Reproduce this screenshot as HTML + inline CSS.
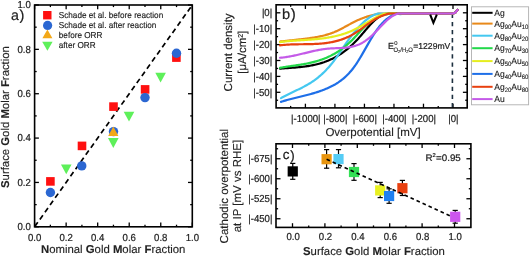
<!DOCTYPE html>
<html><head><meta charset="utf-8"><style>
html,body{margin:0;padding:0;background:#fff;width:531px;height:256px;overflow:hidden}
svg{display:block;will-change:transform;filter:blur(0.3px)}
text{font-family:"Liberation Sans", sans-serif;fill:#222;text-rendering:geometricPrecision}
.tk{stroke:#000;stroke-width:1.3}
.tl{font-size:10.1px;stroke:#222;stroke-width:0.22px}
.lg{font-size:8.6px;stroke:#222;stroke-width:0.15px}
.lb{font-size:9.0px;stroke:#222;stroke-width:0.12px}
.sb{font-size:6.3px}
.ti{font-size:11.35px;stroke:#222;stroke-width:0.12px}
.tr{font-size:11.5px;stroke:#222;stroke-width:0.12px}
.pl{font-size:13.6px}
text.pl,text.pr{stroke:#111;stroke-width:0.2px}
</style></head><body>
<svg width="531" height="256" viewBox="0 0 531 256">
<rect width="531" height="256" fill="#fff"/>
<line x1="34.60" y1="226.80" x2="34.60" y2="222.50" class="tk"/>
<line x1="34.60" y1="5.00" x2="34.60" y2="9.30" class="tk"/>
<line x1="34.60" y1="226.80" x2="38.90" y2="226.80" class="tk"/>
<line x1="192.30" y1="226.80" x2="188.00" y2="226.80" class="tk"/>
<line x1="50.37" y1="226.80" x2="50.37" y2="224.70" class="tk"/>
<line x1="50.37" y1="5.00" x2="50.37" y2="7.10" class="tk"/>
<line x1="34.60" y1="204.62" x2="36.70" y2="204.62" class="tk"/>
<line x1="192.30" y1="204.62" x2="190.20" y2="204.62" class="tk"/>
<line x1="66.14" y1="226.80" x2="66.14" y2="222.50" class="tk"/>
<line x1="66.14" y1="5.00" x2="66.14" y2="9.30" class="tk"/>
<line x1="34.60" y1="182.44" x2="38.90" y2="182.44" class="tk"/>
<line x1="192.30" y1="182.44" x2="188.00" y2="182.44" class="tk"/>
<line x1="81.91" y1="226.80" x2="81.91" y2="224.70" class="tk"/>
<line x1="81.91" y1="5.00" x2="81.91" y2="7.10" class="tk"/>
<line x1="34.60" y1="160.26" x2="36.70" y2="160.26" class="tk"/>
<line x1="192.30" y1="160.26" x2="190.20" y2="160.26" class="tk"/>
<line x1="97.68" y1="226.80" x2="97.68" y2="222.50" class="tk"/>
<line x1="97.68" y1="5.00" x2="97.68" y2="9.30" class="tk"/>
<line x1="34.60" y1="138.08" x2="38.90" y2="138.08" class="tk"/>
<line x1="192.30" y1="138.08" x2="188.00" y2="138.08" class="tk"/>
<line x1="113.45" y1="226.80" x2="113.45" y2="224.70" class="tk"/>
<line x1="113.45" y1="5.00" x2="113.45" y2="7.10" class="tk"/>
<line x1="34.60" y1="115.90" x2="36.70" y2="115.90" class="tk"/>
<line x1="192.30" y1="115.90" x2="190.20" y2="115.90" class="tk"/>
<line x1="129.22" y1="226.80" x2="129.22" y2="222.50" class="tk"/>
<line x1="129.22" y1="5.00" x2="129.22" y2="9.30" class="tk"/>
<line x1="34.60" y1="93.72" x2="38.90" y2="93.72" class="tk"/>
<line x1="192.30" y1="93.72" x2="188.00" y2="93.72" class="tk"/>
<line x1="144.99" y1="226.80" x2="144.99" y2="224.70" class="tk"/>
<line x1="144.99" y1="5.00" x2="144.99" y2="7.10" class="tk"/>
<line x1="34.60" y1="71.54" x2="36.70" y2="71.54" class="tk"/>
<line x1="192.30" y1="71.54" x2="190.20" y2="71.54" class="tk"/>
<line x1="160.76" y1="226.80" x2="160.76" y2="222.50" class="tk"/>
<line x1="160.76" y1="5.00" x2="160.76" y2="9.30" class="tk"/>
<line x1="34.60" y1="49.36" x2="38.90" y2="49.36" class="tk"/>
<line x1="192.30" y1="49.36" x2="188.00" y2="49.36" class="tk"/>
<line x1="176.53" y1="226.80" x2="176.53" y2="224.70" class="tk"/>
<line x1="176.53" y1="5.00" x2="176.53" y2="7.10" class="tk"/>
<line x1="34.60" y1="27.18" x2="36.70" y2="27.18" class="tk"/>
<line x1="192.30" y1="27.18" x2="190.20" y2="27.18" class="tk"/>
<line x1="192.30" y1="226.80" x2="192.30" y2="222.50" class="tk"/>
<line x1="192.30" y1="5.00" x2="192.30" y2="9.30" class="tk"/>
<line x1="34.60" y1="5.00" x2="38.90" y2="5.00" class="tk"/>
<line x1="192.30" y1="5.00" x2="188.00" y2="5.00" class="tk"/>
<line x1="34.60" y1="226.80" x2="190.72" y2="7.22" stroke="#000" stroke-width="1.7" stroke-dasharray="5.2 3.6" stroke-dashoffset="-0.3"/>
<rect x="34.60" y="5.00" width="157.70" height="221.80" fill="none" stroke="#000" stroke-width="1.6"/>
<text transform="translate(30.80,230.20) scale(0.950,1)" class="tl" text-anchor="end">0.0</text>
<text transform="translate(34.60,240.60) scale(0.950,1)" class="tl" text-anchor="middle">0.0</text>
<text transform="translate(30.80,185.84) scale(0.950,1)" class="tl" text-anchor="end">0.2</text>
<text transform="translate(66.14,240.60) scale(0.950,1)" class="tl" text-anchor="middle">0.2</text>
<text transform="translate(30.80,141.48) scale(0.950,1)" class="tl" text-anchor="end">0.4</text>
<text transform="translate(97.68,240.60) scale(0.950,1)" class="tl" text-anchor="middle">0.4</text>
<text transform="translate(30.80,97.12) scale(0.950,1)" class="tl" text-anchor="end">0.6</text>
<text transform="translate(129.22,240.60) scale(0.950,1)" class="tl" text-anchor="middle">0.6</text>
<text transform="translate(30.80,52.76) scale(0.950,1)" class="tl" text-anchor="end">0.8</text>
<text transform="translate(160.76,240.60) scale(0.950,1)" class="tl" text-anchor="middle">0.8</text>
<text transform="translate(30.80,8.40) scale(0.950,1)" class="tl" text-anchor="end">1.0</text>
<text transform="translate(192.30,240.60) scale(0.950,1)" class="tl" text-anchor="middle">1.0</text>
<text x="11.0" y="20.2" class="pl" style="font-size:14.2px">a</text><text x="19.5" y="20.2" class="pr" style="font-size:14.6px">)</text>
<rect x="46.10" y="177.10" width="8.60" height="8.60" fill="#ff1010"/>
<rect x="77.70" y="141.60" width="8.60" height="8.60" fill="#ff1010"/>
<rect x="109.20" y="102.30" width="8.60" height="8.60" fill="#ff1010"/>
<rect x="140.80" y="85.10" width="8.60" height="8.60" fill="#ff1010"/>
<rect x="172.10" y="53.30" width="8.60" height="8.60" fill="#ff1010"/>
<circle cx="50.40" cy="192.50" r="4.70" fill="#2b67d2"/>
<circle cx="81.75" cy="165.90" r="4.70" fill="#2b67d2"/>
<circle cx="113.50" cy="131.60" r="4.70" fill="#2b67d2"/>
<circle cx="145.00" cy="97.60" r="4.70" fill="#2b67d2"/>
<circle cx="176.50" cy="53.30" r="4.70" fill="#2b67d2"/>
<polygon points="108.20,136.00 118.40,136.00 113.30,126.40" fill="#f3a818"/>
<polygon points="60.95,164.40 71.55,164.40 66.25,174.20" fill="#5ef05a"/>
<polygon points="108.00,138.10 118.60,138.10 113.30,147.90" fill="#5ef05a"/>
<polygon points="123.70,111.70 134.30,111.70 129.00,121.50" fill="#5ef05a"/>
<polygon points="155.30,72.70 165.90,72.70 160.60,82.50" fill="#5ef05a"/>
<rect x="43.10" y="11.00" width="8.40" height="8.40" fill="#ff1010"/>
<circle cx="47.60" cy="25.40" r="4.60" fill="#2b67d2"/>
<polygon points="42.40,38.20 52.40,38.20 47.40,29.40" fill="#f3a818"/>
<polygon points="42.20,41.85 52.60,41.85 47.40,50.75" fill="#5ef05a"/>
<text transform="translate(58.8,17.90) scale(0.95,1)" class="lg">Schade et al. before reaction</text>
<text transform="translate(58.8,27.70) scale(0.95,1)" class="lg">Schade et al. after reaction</text>
<text transform="translate(58.8,37.60) scale(0.95,1)" class="lg">before ORR</text>
<text transform="translate(58.8,47.50) scale(0.95,1)" class="lg">after ORR</text>
<text x="41.0" y="253.1" class="ti"><tspan font-weight="bold">N</tspan>ominal <tspan font-weight="bold">G</tspan>old <tspan font-weight="bold">M</tspan>olar <tspan font-weight="bold">F</tspan>raction</text>
<text transform="translate(9.2,188.0) rotate(-90)" class="ti"><tspan font-weight="bold">S</tspan>urface <tspan font-weight="bold">G</tspan>old <tspan font-weight="bold">M</tspan>olar <tspan font-weight="bold">F</tspan>raction</text>
<line x1="290.64" y1="107.90" x2="290.64" y2="105.90" class="tk"/>
<line x1="290.64" y1="4.80" x2="290.64" y2="6.80" class="tk"/>
<line x1="305.40" y1="107.90" x2="305.40" y2="103.70" class="tk"/>
<line x1="305.40" y1="4.80" x2="305.40" y2="9.00" class="tk"/>
<line x1="320.16" y1="107.90" x2="320.16" y2="105.90" class="tk"/>
<line x1="320.16" y1="4.80" x2="320.16" y2="6.80" class="tk"/>
<line x1="334.92" y1="107.90" x2="334.92" y2="103.70" class="tk"/>
<line x1="334.92" y1="4.80" x2="334.92" y2="9.00" class="tk"/>
<line x1="349.68" y1="107.90" x2="349.68" y2="105.90" class="tk"/>
<line x1="349.68" y1="4.80" x2="349.68" y2="6.80" class="tk"/>
<line x1="364.44" y1="107.90" x2="364.44" y2="103.70" class="tk"/>
<line x1="364.44" y1="4.80" x2="364.44" y2="9.00" class="tk"/>
<line x1="379.20" y1="107.90" x2="379.20" y2="105.90" class="tk"/>
<line x1="379.20" y1="4.80" x2="379.20" y2="6.80" class="tk"/>
<line x1="393.96" y1="107.90" x2="393.96" y2="103.70" class="tk"/>
<line x1="393.96" y1="4.80" x2="393.96" y2="9.00" class="tk"/>
<line x1="408.72" y1="107.90" x2="408.72" y2="105.90" class="tk"/>
<line x1="408.72" y1="4.80" x2="408.72" y2="6.80" class="tk"/>
<line x1="423.48" y1="107.90" x2="423.48" y2="103.70" class="tk"/>
<line x1="423.48" y1="4.80" x2="423.48" y2="9.00" class="tk"/>
<line x1="438.24" y1="107.90" x2="438.24" y2="105.90" class="tk"/>
<line x1="438.24" y1="4.80" x2="438.24" y2="6.80" class="tk"/>
<line x1="453.00" y1="107.90" x2="453.00" y2="103.70" class="tk"/>
<line x1="453.00" y1="4.80" x2="453.00" y2="9.00" class="tk"/>
<line x1="276.10" y1="12.80" x2="280.40" y2="12.80" class="tk"/>
<line x1="467.20" y1="12.80" x2="462.90" y2="12.80" class="tk"/>
<line x1="276.10" y1="20.75" x2="278.10" y2="20.75" class="tk"/>
<line x1="467.20" y1="20.75" x2="465.20" y2="20.75" class="tk"/>
<line x1="276.10" y1="28.70" x2="280.40" y2="28.70" class="tk"/>
<line x1="467.20" y1="28.70" x2="462.90" y2="28.70" class="tk"/>
<line x1="276.10" y1="36.65" x2="278.10" y2="36.65" class="tk"/>
<line x1="467.20" y1="36.65" x2="465.20" y2="36.65" class="tk"/>
<line x1="276.10" y1="44.60" x2="280.40" y2="44.60" class="tk"/>
<line x1="467.20" y1="44.60" x2="462.90" y2="44.60" class="tk"/>
<line x1="276.10" y1="52.55" x2="278.10" y2="52.55" class="tk"/>
<line x1="467.20" y1="52.55" x2="465.20" y2="52.55" class="tk"/>
<line x1="276.10" y1="60.50" x2="280.40" y2="60.50" class="tk"/>
<line x1="467.20" y1="60.50" x2="462.90" y2="60.50" class="tk"/>
<line x1="276.10" y1="68.45" x2="278.10" y2="68.45" class="tk"/>
<line x1="467.20" y1="68.45" x2="465.20" y2="68.45" class="tk"/>
<line x1="276.10" y1="76.40" x2="280.40" y2="76.40" class="tk"/>
<line x1="467.20" y1="76.40" x2="462.90" y2="76.40" class="tk"/>
<line x1="276.10" y1="84.35" x2="278.10" y2="84.35" class="tk"/>
<line x1="467.20" y1="84.35" x2="465.20" y2="84.35" class="tk"/>
<line x1="276.10" y1="92.30" x2="280.40" y2="92.30" class="tk"/>
<line x1="467.20" y1="92.30" x2="462.90" y2="92.30" class="tk"/>
<line x1="276.10" y1="100.25" x2="278.10" y2="100.25" class="tk"/>
<line x1="467.20" y1="100.25" x2="465.20" y2="100.25" class="tk"/>
<text transform="translate(272.20,16.20) scale(0.950,1)" class="tl" text-anchor="end">|0|</text>
<text transform="translate(272.20,32.10) scale(0.950,1)" class="tl" text-anchor="end">|-10|</text>
<text transform="translate(272.20,48.00) scale(0.950,1)" class="tl" text-anchor="end">|-20|</text>
<text transform="translate(272.20,63.90) scale(0.950,1)" class="tl" text-anchor="end">|-30|</text>
<text transform="translate(272.20,79.80) scale(0.950,1)" class="tl" text-anchor="end">|-40|</text>
<text transform="translate(272.20,95.70) scale(0.950,1)" class="tl" text-anchor="end">|-50|</text>
<text transform="translate(305.80,121.50) scale(0.950,1)" class="tl" text-anchor="middle">|-1000|</text>
<text transform="translate(335.32,121.50) scale(0.950,1)" class="tl" text-anchor="middle">|-800|</text>
<text transform="translate(364.84,121.50) scale(0.950,1)" class="tl" text-anchor="middle">|-600|</text>
<text transform="translate(394.36,121.50) scale(0.950,1)" class="tl" text-anchor="middle">|-400|</text>
<text transform="translate(423.88,121.50) scale(0.950,1)" class="tl" text-anchor="middle">|-200|</text>
<text transform="translate(453.40,121.50) scale(0.950,1)" class="tl" text-anchor="middle">|0|</text>
<text x="281.9" y="19.3" class="pl" style="font-size:14.6px">b</text><text x="290.8" y="19.1" class="pr" style="font-size:15px">)</text>
<line x1="452.4" y1="13.8" x2="452.4" y2="107" stroke="#1d2f3f" stroke-width="1.6" stroke-dasharray="4.3 3.8"/>
<path d="M280.00,68.66 L281.00,68.58 L282.00,68.50 L283.00,68.42 L284.00,68.34 L285.00,68.27 L286.00,68.20 L287.00,68.12 L288.00,68.05 L289.00,67.98 L290.00,67.91 L291.00,67.83 L292.00,67.76 L293.00,67.68 L294.00,67.61 L295.00,67.53 L296.00,67.44 L297.00,67.35 L298.00,67.26 L299.00,67.17 L300.00,67.07 L301.00,66.96 L302.00,66.85 L303.00,66.74 L304.00,66.61 L305.00,66.48 L306.00,66.35 L307.00,66.20 L308.00,66.05 L309.00,65.89 L310.00,65.72 L311.00,65.54 L312.00,65.35 L313.00,65.15 L314.00,64.94 L315.00,64.72 L316.00,64.49 L317.00,64.25 L318.00,63.99 L319.00,63.72 L320.00,63.44 L321.00,63.15 L322.00,62.84 L323.00,62.51 L324.00,62.18 L325.00,61.82 L326.00,61.45 L327.00,61.07 L328.00,60.67 L329.00,60.25 L330.00,59.81 L331.00,59.36 L332.00,58.89 L333.00,58.40 L334.00,57.89 L335.00,57.36 L336.00,56.81 L337.00,56.24 L338.00,55.65 L339.00,55.04 L340.00,54.41 L341.00,53.76 L342.00,53.08 L343.00,52.38 L344.00,51.66 L345.00,50.92 L346.00,50.15 L347.00,49.35 L348.00,48.54 L349.00,47.69 L350.00,46.82 L351.00,45.93 L352.00,45.00 L353.00,44.05 L354.00,43.08 L355.00,42.07 L356.00,41.04 L357.00,39.98 L358.00,38.89 L359.00,37.77 L360.00,36.64 L361.00,35.49 L362.00,34.32 L363.00,33.15 L364.00,31.98 L365.00,30.81 L366.00,29.64 L367.00,28.48 L368.00,27.33 L369.00,26.21 L370.00,25.10 L371.00,24.02 L372.00,22.98 L373.00,21.96 L374.00,20.99 L375.00,20.06 L376.00,19.18 L377.00,18.35 L378.00,17.58 L379.00,16.87 L380.00,16.22 L381.00,15.65 L382.00,15.13 L383.00,14.68 L384.00,14.29 L385.00,13.95 L386.00,13.67 L387.00,13.50 L388.00,13.50 L389.00,13.50 L390.00,13.50 L391.00,13.50 L392.00,13.50 L393.00,13.50 L394.00,13.50 L395.00,13.50 L396.00,13.50 L397.00,13.50 L398.00,13.50 L399.00,13.50 L400.00,13.50 L401.00,13.50 L402.00,13.50 L403.00,13.50 L404.00,13.50 L405.00,13.50 L406.00,13.50 L407.00,13.50 L408.00,13.50 L409.00,13.50 L410.00,13.50 L411.00,13.50 L412.00,13.50 L413.00,13.50 L414.00,13.50 L415.00,13.50 L416.00,13.50 L417.00,13.50 L418.00,13.50 L419.00,13.50 L420.00,13.50 L421.00,13.50 L422.00,13.50 L423.00,13.50 L424.00,13.50 L425.00,13.50 L426.00,13.50 L427.00,13.50 L428.00,13.50 L429.00,13.50 L430.00,13.50 L431.00,13.50 L432.00,13.50 L433.00,13.50 L434.00,13.50 L435.00,13.50 L436.00,13.50 L437.00,13.50 L438.00,13.50 L439.00,13.50 L440.00,13.50 L441.00,13.50 L442.00,13.50 L443.00,13.50 L444.00,13.50 L445.00,13.50 L446.00,13.50 L447.00,13.50 L448.00,13.50 L449.00,13.50 L450.00,13.50 L453.00,13.50 L455.50,12.40 L457.60,9.80" fill="none" stroke="#000000" stroke-width="2.2" stroke-linecap="round" stroke-linejoin="round"/>
<path d="M280.00,41.59 L281.00,41.46 L282.00,41.34 L283.00,41.22 L284.00,41.10 L285.00,40.99 L286.00,40.87 L287.00,40.76 L288.00,40.65 L289.00,40.54 L290.00,40.43 L291.00,40.32 L292.00,40.22 L293.00,40.11 L294.00,40.00 L295.00,39.89 L296.00,39.79 L297.00,39.68 L298.00,39.57 L299.00,39.46 L300.00,39.34 L301.00,39.23 L302.00,39.12 L303.00,39.00 L304.00,38.88 L305.00,38.75 L306.00,38.63 L307.00,38.50 L308.00,38.37 L309.00,38.23 L310.00,38.09 L311.00,37.95 L312.00,37.80 L313.00,37.65 L314.00,37.49 L315.00,37.33 L316.00,37.16 L317.00,36.98 L318.00,36.79 L319.00,36.59 L320.00,36.39 L321.00,36.17 L322.00,35.95 L323.00,35.71 L324.00,35.46 L325.00,35.20 L326.00,34.93 L327.00,34.64 L328.00,34.34 L329.00,34.03 L330.00,33.70 L331.00,33.35 L332.00,32.99 L333.00,32.61 L334.00,32.22 L335.00,31.80 L336.00,31.37 L337.00,30.92 L338.00,30.45 L339.00,29.97 L340.00,29.47 L341.00,28.96 L342.00,28.44 L343.00,27.91 L344.00,27.37 L345.00,26.83 L346.00,26.28 L347.00,25.74 L348.00,25.19 L349.00,24.64 L350.00,24.10 L351.00,23.56 L352.00,23.04 L353.00,22.51 L354.00,22.00 L355.00,21.50 L356.00,21.02 L357.00,20.55 L358.00,20.10 L359.00,19.66 L360.00,19.23 L361.00,18.82 L362.00,18.43 L363.00,18.05 L364.00,17.68 L365.00,17.33 L366.00,16.99 L367.00,16.66 L368.00,16.35 L369.00,16.05 L370.00,15.76 L371.00,15.49 L372.00,15.23 L373.00,14.97 L374.00,14.73 L375.00,14.51 L376.00,14.29 L377.00,14.08 L378.00,13.89 L379.00,13.70 L380.00,13.53 L381.00,13.50 L382.00,13.50 L383.00,13.50 L384.00,13.50 L385.00,13.50 L386.00,13.50 L387.00,13.50 L388.00,13.50 L389.00,13.50 L390.00,13.50 L391.00,13.50 L392.00,13.50 L393.00,13.50 L394.00,13.50 L395.00,13.50 L396.00,13.50 L397.00,13.50 L398.00,13.50 L399.00,13.50 L400.00,13.50 L401.00,13.50 L402.00,13.50 L403.00,13.50 L404.00,13.50 L405.00,13.50 L406.00,13.50 L407.00,13.50 L408.00,13.50 L409.00,13.50 L410.00,13.50 L411.00,13.50 L412.00,13.50 L413.00,13.50 L414.00,13.50 L415.00,13.50 L416.00,13.50 L417.00,13.50 L418.00,13.50 L419.00,13.50 L420.00,13.50 L421.00,13.50 L422.00,13.50 L423.00,13.50 L424.00,13.50 L425.00,13.50 L426.00,13.50 L427.00,13.50 L428.00,13.50 L429.00,13.50 L430.00,13.50 L431.00,13.50 L432.00,13.50 L433.00,13.50 L434.00,13.50 L435.00,13.50 L436.00,13.50 L437.00,13.50 L438.00,13.50 L439.00,13.50 L440.00,13.50 L441.00,13.50 L442.00,13.50 L443.00,13.50 L444.00,13.50 L445.00,13.50 L446.00,13.50 L447.00,13.50 L448.00,13.50 L449.00,13.50 L450.00,13.50 L453.00,13.50 L455.50,12.40 L457.60,9.80" fill="none" stroke="#e8891a" stroke-width="2.2" stroke-linecap="round" stroke-linejoin="round"/>
<path d="M281.00,98.14 L282.00,97.57 L283.00,97.01 L284.00,96.47 L285.00,95.94 L286.00,95.42 L287.00,94.91 L288.00,94.41 L289.00,93.92 L290.00,93.43 L291.00,92.95 L292.00,92.47 L293.00,92.00 L294.00,91.52 L295.00,91.05 L296.00,90.58 L297.00,90.10 L298.00,89.62 L299.00,89.14 L300.00,88.65 L301.00,88.16 L302.00,87.65 L303.00,87.14 L304.00,86.62 L305.00,86.08 L306.00,85.53 L307.00,84.97 L308.00,84.39 L309.00,83.80 L310.00,83.19 L311.00,82.56 L312.00,81.91 L313.00,81.23 L314.00,80.54 L315.00,79.82 L316.00,79.08 L317.00,78.31 L318.00,77.52 L319.00,76.70 L320.00,75.85 L321.00,74.97 L322.00,74.07 L323.00,73.14 L324.00,72.18 L325.00,71.18 L326.00,70.16 L327.00,69.11 L328.00,68.02 L329.00,66.90 L330.00,65.75 L331.00,64.56 L332.00,63.34 L333.00,62.08 L334.00,60.79 L335.00,59.46 L336.00,58.09 L337.00,56.69 L338.00,55.25 L339.00,53.79 L340.00,52.31 L341.00,50.82 L342.00,49.33 L343.00,47.83 L344.00,46.34 L345.00,44.87 L346.00,43.42 L347.00,41.99 L348.00,40.57 L349.00,39.19 L350.00,37.82 L351.00,36.48 L352.00,35.16 L353.00,33.88 L354.00,32.62 L355.00,31.39 L356.00,30.19 L357.00,29.02 L358.00,27.88 L359.00,26.78 L360.00,25.71 L361.00,24.68 L362.00,23.68 L363.00,22.72 L364.00,21.80 L365.00,20.92 L366.00,20.09 L367.00,19.29 L368.00,18.54 L369.00,17.83 L370.00,17.17 L371.00,16.56 L372.00,15.99 L373.00,15.47 L374.00,15.00 L375.00,14.59 L376.00,14.22 L377.00,13.91 L378.00,13.64 L379.00,13.50 L380.00,13.50 L381.00,13.50 L382.00,13.50 L383.00,13.50 L384.00,13.50 L385.00,13.50 L386.00,13.50 L387.00,13.50 L388.00,13.50 L389.00,13.50 L390.00,13.50 L391.00,13.50 L392.00,13.50 L393.00,13.50 L394.00,13.50 L395.00,13.61 L396.00,13.72 L397.00,13.83 L398.00,13.93 L399.00,14.02 L400.00,14.10 L401.00,14.16 L402.00,13.50 L403.00,13.50 L404.00,13.50 L405.00,13.50 L406.00,13.50 L407.00,13.50 L408.00,13.50 L409.00,13.50 L410.00,13.50 L411.00,13.50 L412.00,13.50 L413.00,13.50 L414.00,13.50 L415.00,13.50 L416.00,13.50 L417.00,13.50 L418.00,13.50 L419.00,13.50 L420.00,13.50 L421.00,13.50 L422.00,13.50 L423.00,13.50 L424.00,13.50 L425.00,13.50 L426.00,13.50 L427.00,13.50 L428.00,13.50 L429.00,13.50 L430.00,13.50 L431.00,13.50 L432.00,13.50 L433.00,13.50 L434.00,13.50 L435.00,13.50 L436.00,13.50 L437.00,13.50 L438.00,13.50 L439.00,13.50 L440.00,13.50 L441.00,13.50 L442.00,13.50 L443.00,13.50 L444.00,13.50 L445.00,13.50 L446.00,13.50 L447.00,13.50 L448.00,13.50 L449.00,13.50 L450.00,13.50 L453.00,13.50 L455.50,12.40 L457.60,9.80" fill="none" stroke="#44c8f0" stroke-width="2.2" stroke-linecap="round" stroke-linejoin="round"/>
<path d="M280.00,67.81 L281.00,67.64 L282.00,67.47 L283.00,67.30 L284.00,67.14 L285.00,66.98 L286.00,66.83 L287.00,66.67 L288.00,66.52 L289.00,66.38 L290.00,66.23 L291.00,66.09 L292.00,65.94 L293.00,65.80 L294.00,65.65 L295.00,65.51 L296.00,65.36 L297.00,65.21 L298.00,65.06 L299.00,64.91 L300.00,64.75 L301.00,64.59 L302.00,64.42 L303.00,64.25 L304.00,64.08 L305.00,63.90 L306.00,63.71 L307.00,63.51 L308.00,63.31 L309.00,63.10 L310.00,62.89 L311.00,62.66 L312.00,62.43 L313.00,62.18 L314.00,61.93 L315.00,61.66 L316.00,61.39 L317.00,61.10 L318.00,60.80 L319.00,60.49 L320.00,60.17 L321.00,59.83 L322.00,59.48 L323.00,59.11 L324.00,58.73 L325.00,58.34 L326.00,57.93 L327.00,57.50 L328.00,57.06 L329.00,56.60 L330.00,56.12 L331.00,55.62 L332.00,55.10 L333.00,54.57 L334.00,54.02 L335.00,53.44 L336.00,52.85 L337.00,52.23 L338.00,51.60 L339.00,50.94 L340.00,50.25 L341.00,49.55 L342.00,48.82 L343.00,48.07 L344.00,47.30 L345.00,46.50 L346.00,45.67 L347.00,44.82 L348.00,43.94 L349.00,43.04 L350.00,42.11 L351.00,41.15 L352.00,40.16 L353.00,39.14 L354.00,38.11 L355.00,37.05 L356.00,35.98 L357.00,34.89 L358.00,33.81 L359.00,32.72 L360.00,31.64 L361.00,30.57 L362.00,29.51 L363.00,28.47 L364.00,27.46 L365.00,26.47 L366.00,25.52 L367.00,24.61 L368.00,23.74 L369.00,22.91 L370.00,22.14 L371.00,21.40 L372.00,20.71 L373.00,20.06 L374.00,19.44 L375.00,18.87 L376.00,18.32 L377.00,17.81 L378.00,17.33 L379.00,16.88 L380.00,16.45 L381.00,16.05 L382.00,15.67 L383.00,15.31 L384.00,14.98 L385.00,14.67 L386.00,14.38 L387.00,14.11 L388.00,13.86 L389.00,13.63 L390.00,13.50 L391.00,13.50 L392.00,13.50 L393.00,13.50 L394.00,13.50 L395.00,13.50 L396.00,13.50 L397.00,13.50 L398.00,13.50 L399.00,13.50 L400.00,13.50 L401.00,13.50 L402.00,13.50 L403.00,13.50 L404.00,13.50 L405.00,13.50 L406.00,13.50 L407.00,13.50 L408.00,13.50 L409.00,13.50 L410.00,13.50 L411.00,13.50 L412.00,13.50 L413.00,13.50 L414.00,13.50 L415.00,13.50 L416.00,13.50 L417.00,13.50 L418.00,13.50 L419.00,13.50 L420.00,13.50 L421.00,13.50 L422.00,13.50 L423.00,13.50 L424.00,13.50 L425.00,13.50 L426.00,13.50 L427.00,13.50 L428.00,13.50 L429.00,13.50 L430.00,13.50 L431.00,13.50 L432.00,13.50 L433.00,13.50 L434.00,13.50 L435.00,13.50 L436.00,13.50 L437.00,13.50 L438.00,13.50 L439.00,13.50 L440.00,13.50 L441.00,13.50 L442.00,13.50 L443.00,13.50 L444.00,13.50 L445.00,13.50 L446.00,13.50 L447.00,13.50 L448.00,13.50 L449.00,13.50 L450.00,13.50 L453.00,13.50 L455.50,12.40 L457.60,9.80" fill="none" stroke="#22d84a" stroke-width="2.2" stroke-linecap="round" stroke-linejoin="round"/>
<path d="M280.00,42.10 L281.00,41.96 L282.00,41.83 L283.00,41.71 L284.00,41.60 L285.00,41.49 L286.00,41.38 L287.00,41.28 L288.00,41.19 L289.00,41.10 L290.00,41.01 L291.00,40.92 L292.00,40.84 L293.00,40.77 L294.00,40.69 L295.00,40.62 L296.00,40.55 L297.00,40.48 L298.00,40.41 L299.00,40.35 L300.00,40.28 L301.00,40.22 L302.00,40.15 L303.00,40.09 L304.00,40.03 L305.00,39.96 L306.00,39.89 L307.00,39.83 L308.00,39.76 L309.00,39.69 L310.00,39.62 L311.00,39.54 L312.00,39.46 L313.00,39.38 L314.00,39.30 L315.00,39.21 L316.00,39.12 L317.00,39.03 L318.00,38.93 L319.00,38.82 L320.00,38.71 L321.00,38.60 L322.00,38.48 L323.00,38.35 L324.00,38.22 L325.00,38.08 L326.00,37.93 L327.00,37.78 L328.00,37.62 L329.00,37.45 L330.00,37.27 L331.00,37.09 L332.00,36.89 L333.00,36.69 L334.00,36.48 L335.00,36.26 L336.00,36.02 L337.00,35.78 L338.00,35.53 L339.00,35.27 L340.00,34.99 L341.00,34.71 L342.00,34.41 L343.00,34.10 L344.00,33.78 L345.00,33.45 L346.00,33.10 L347.00,32.74 L348.00,32.37 L349.00,31.98 L350.00,31.58 L351.00,31.16 L352.00,30.73 L353.00,30.29 L354.00,29.83 L355.00,29.35 L356.00,28.86 L357.00,28.35 L358.00,27.83 L359.00,27.29 L360.00,26.73 L361.00,26.16 L362.00,25.58 L363.00,25.00 L364.00,24.40 L365.00,23.80 L366.00,23.19 L367.00,22.59 L368.00,21.98 L369.00,21.38 L370.00,20.78 L371.00,20.18 L372.00,19.60 L373.00,19.02 L374.00,18.46 L375.00,17.91 L376.00,17.37 L377.00,16.85 L378.00,16.36 L379.00,15.88 L380.00,15.42 L381.00,14.99 L382.00,14.59 L383.00,14.22 L384.00,13.88 L385.00,13.56 L386.00,13.50 L387.00,13.50 L388.00,13.50 L389.00,13.50 L390.00,13.50 L391.00,13.50 L392.00,13.50 L393.00,13.50 L394.00,13.50 L395.00,13.50 L396.00,13.50 L397.00,13.50 L398.00,13.50 L399.00,13.50 L400.00,13.50 L401.00,13.50 L402.00,13.50 L403.00,13.50 L404.00,13.50 L405.00,13.50 L406.00,13.50 L407.00,13.50 L408.00,13.50 L409.00,13.50 L410.00,13.50 L411.00,13.50 L412.00,13.50 L413.00,13.50 L414.00,13.50 L415.00,13.50 L416.00,13.50 L417.00,13.50 L418.00,13.50 L419.00,13.50 L420.00,13.50 L421.00,13.50 L422.00,13.50 L423.00,13.50 L424.00,13.50 L425.00,13.50 L426.00,13.50 L427.00,13.50 L428.00,13.50 L429.00,13.50 L430.00,13.50 L431.00,13.50 L432.00,13.50 L433.00,13.50 L434.00,13.50 L435.00,13.50 L436.00,13.50 L437.00,13.50 L438.00,13.50 L439.00,13.50 L440.00,13.50 L441.00,13.50 L442.00,13.50 L443.00,13.50 L444.00,13.50 L445.00,13.50 L446.00,13.50 L447.00,13.50 L448.00,13.50 L449.00,13.50 L450.00,13.50 L453.00,13.50 L455.50,12.40 L457.60,9.80" fill="none" stroke="#e6ee1e" stroke-width="2.2" stroke-linecap="round" stroke-linejoin="round"/>
<path d="M281.00,101.86 L282.00,101.54 L283.00,101.22 L284.00,100.92 L285.00,100.62 L286.00,100.33 L287.00,100.05 L288.00,99.77 L289.00,99.50 L290.00,99.23 L291.00,98.97 L292.00,98.71 L293.00,98.46 L294.00,98.20 L295.00,97.96 L296.00,97.71 L297.00,97.46 L298.00,97.22 L299.00,96.98 L300.00,96.74 L301.00,96.49 L302.00,96.25 L303.00,96.00 L304.00,95.76 L305.00,95.51 L306.00,95.26 L307.00,95.00 L308.00,94.74 L309.00,94.48 L310.00,94.21 L311.00,93.94 L312.00,93.66 L313.00,93.37 L314.00,93.08 L315.00,92.78 L316.00,92.47 L317.00,92.15 L318.00,91.83 L319.00,91.49 L320.00,91.15 L321.00,90.79 L322.00,90.43 L323.00,90.05 L324.00,89.66 L325.00,89.26 L326.00,88.85 L327.00,88.42 L328.00,87.98 L329.00,87.53 L330.00,87.06 L331.00,86.57 L332.00,86.07 L333.00,85.55 L334.00,85.00 L335.00,84.44 L336.00,83.85 L337.00,83.24 L338.00,82.60 L339.00,81.92 L340.00,81.22 L341.00,80.49 L342.00,79.72 L343.00,78.91 L344.00,78.06 L345.00,77.18 L346.00,76.25 L347.00,75.28 L348.00,74.27 L349.00,73.21 L350.00,72.09 L351.00,70.93 L352.00,69.72 L353.00,68.45 L354.00,67.13 L355.00,65.75 L356.00,64.30 L357.00,62.80 L358.00,61.25 L359.00,59.65 L360.00,58.00 L361.00,56.32 L362.00,54.61 L363.00,52.88 L364.00,51.14 L365.00,49.39 L366.00,47.63 L367.00,45.88 L368.00,44.14 L369.00,42.41 L370.00,40.71 L371.00,39.03 L372.00,37.39 L373.00,35.78 L374.00,34.20 L375.00,32.67 L376.00,31.19 L377.00,29.75 L378.00,28.37 L379.00,27.05 L380.00,25.80 L381.00,24.61 L382.00,23.49 L383.00,22.43 L384.00,21.43 L385.00,20.50 L386.00,19.63 L387.00,18.81 L388.00,18.05 L389.00,17.35 L390.00,16.69 L391.00,16.09 L392.00,15.54 L393.00,15.04 L394.00,14.59 L395.00,14.18 L396.00,13.81 L397.00,13.50 L398.00,13.50 L399.00,13.50 L400.00,13.50 L401.00,13.50 L402.00,13.50 L403.00,13.50 L404.00,13.50 L405.00,13.50 L406.00,13.50 L407.00,13.50 L408.00,13.50 L409.00,13.50 L410.00,13.50 L411.00,13.50 L412.00,13.50 L413.00,13.50 L414.00,13.50 L415.00,13.50 L416.00,13.50 L417.00,13.50 L418.00,13.50 L419.00,13.50 L420.00,13.50 L421.00,13.50 L422.00,13.50 L423.00,13.50 L424.00,13.50 L425.00,13.50 L426.00,13.50 L427.00,13.50 L428.00,13.50 L429.00,13.50 L430.00,13.50 L431.00,13.50 L432.00,13.50 L433.00,13.50 L434.00,13.50 L435.00,13.50 L436.00,13.50 L437.00,13.50 L438.00,13.50 L439.00,13.50 L440.00,13.50 L441.00,13.50 L442.00,13.50 L443.00,13.50 L444.00,13.50 L445.00,13.50 L446.00,13.50 L447.00,13.50 L448.00,13.50 L449.00,13.50 L450.00,13.50 L453.00,13.50 L455.50,12.40 L457.60,9.80" fill="none" stroke="#1e6fe8" stroke-width="2.2" stroke-linecap="round" stroke-linejoin="round"/>
<path d="M280.00,45.30 L281.00,45.18 L282.00,45.07 L283.00,44.98 L284.00,44.89 L285.00,44.80 L286.00,44.73 L287.00,44.66 L288.00,44.61 L289.00,44.55 L290.00,44.50 L291.00,44.46 L292.00,44.43 L293.00,44.39 L294.00,44.37 L295.00,44.34 L296.00,44.32 L297.00,44.30 L298.00,44.29 L299.00,44.27 L300.00,44.26 L301.00,44.25 L302.00,44.24 L303.00,44.23 L304.00,44.22 L305.00,44.21 L306.00,44.20 L307.00,44.19 L308.00,44.17 L309.00,44.15 L310.00,44.13 L311.00,44.11 L312.00,44.08 L313.00,44.05 L314.00,44.01 L315.00,43.97 L316.00,43.93 L317.00,43.87 L318.00,43.82 L319.00,43.75 L320.00,43.68 L321.00,43.60 L322.00,43.51 L323.00,43.41 L324.00,43.30 L325.00,43.19 L326.00,43.06 L327.00,42.93 L328.00,42.78 L329.00,42.62 L330.00,42.45 L331.00,42.27 L332.00,42.08 L333.00,41.87 L334.00,41.65 L335.00,41.42 L336.00,41.17 L337.00,40.91 L338.00,40.63 L339.00,40.34 L340.00,40.03 L341.00,39.70 L342.00,39.36 L343.00,39.00 L344.00,38.62 L345.00,38.22 L346.00,37.81 L347.00,37.37 L348.00,36.92 L349.00,36.45 L350.00,35.95 L351.00,35.44 L352.00,34.90 L353.00,34.35 L354.00,33.77 L355.00,33.16 L356.00,32.54 L357.00,31.89 L358.00,31.22 L359.00,30.53 L360.00,29.83 L361.00,29.12 L362.00,28.39 L363.00,27.66 L364.00,26.92 L365.00,26.19 L366.00,25.45 L367.00,24.72 L368.00,23.99 L369.00,23.28 L370.00,22.57 L371.00,21.88 L372.00,21.21 L373.00,20.56 L374.00,19.93 L375.00,19.32 L376.00,18.75 L377.00,18.20 L378.00,17.68 L379.00,17.19 L380.00,16.72 L381.00,16.29 L382.00,15.87 L383.00,15.48 L384.00,15.12 L385.00,14.78 L386.00,14.46 L387.00,14.17 L388.00,13.90 L389.00,13.65 L390.00,13.50 L391.00,13.50 L392.00,13.50 L393.00,13.50 L394.00,13.50 L395.00,13.50 L396.00,13.50 L397.00,13.50 L398.00,13.50 L399.00,13.50 L400.00,13.50 L401.00,13.50 L402.00,13.50 L403.00,13.50 L404.00,13.50 L405.00,13.50 L406.00,13.50 L407.00,13.50 L408.00,13.50 L409.00,13.50 L410.00,13.50 L411.00,13.50 L412.00,13.50 L413.00,13.50 L414.00,13.50 L415.00,13.50 L416.00,13.50 L417.00,13.50 L418.00,13.50 L419.00,13.50 L420.00,13.50 L421.00,13.50 L422.00,13.50 L423.00,13.50 L424.00,13.50 L425.00,13.50 L426.00,13.50 L427.00,13.50 L428.00,13.50 L429.00,13.50 L430.00,13.50 L431.00,13.50 L432.00,13.50 L433.00,13.50 L434.00,13.50 L435.00,13.50 L436.00,13.50 L437.00,13.50 L438.00,13.50 L439.00,13.50 L440.00,13.50 L441.00,13.50 L442.00,13.50 L443.00,13.50 L444.00,13.50 L445.00,13.50 L446.00,13.50 L447.00,13.50 L448.00,13.50 L449.00,13.50 L450.00,13.50 L453.00,13.50 L455.50,12.40 L457.60,9.80" fill="none" stroke="#e8400f" stroke-width="2.2" stroke-linecap="round" stroke-linejoin="round"/>
<path d="M280.00,57.75 L281.00,57.67 L282.00,57.58 L283.00,57.47 L284.00,57.36 L285.00,57.23 L286.00,57.09 L287.00,56.94 L288.00,56.77 L289.00,56.60 L290.00,56.43 L291.00,56.24 L292.00,56.04 L293.00,55.84 L294.00,55.63 L295.00,55.42 L296.00,55.20 L297.00,54.97 L298.00,54.74 L299.00,54.51 L300.00,54.27 L301.00,54.03 L302.00,53.79 L303.00,53.55 L304.00,53.31 L305.00,53.06 L306.00,52.82 L307.00,52.57 L308.00,52.33 L309.00,52.09 L310.00,51.86 L311.00,51.62 L312.00,51.39 L313.00,51.16 L314.00,50.94 L315.00,50.73 L316.00,50.51 L317.00,50.31 L318.00,50.11 L319.00,49.92 L320.00,49.74 L321.00,49.57 L322.00,49.40 L323.00,49.25 L324.00,49.11 L325.00,48.97 L326.00,48.85 L327.00,48.74 L328.00,48.65 L329.00,48.56 L330.00,48.49 L331.00,48.43 L332.00,48.37 L333.00,48.33 L334.00,48.29 L335.00,48.25 L336.00,48.21 L337.00,48.18 L338.00,48.14 L339.00,48.10 L340.00,48.06 L341.00,48.01 L342.00,47.96 L343.00,47.89 L344.00,47.82 L345.00,47.73 L346.00,47.63 L347.00,47.52 L348.00,47.39 L349.00,47.24 L350.00,47.07 L351.00,46.88 L352.00,46.66 L353.00,46.42 L354.00,46.16 L355.00,45.87 L356.00,45.55 L357.00,45.19 L358.00,44.81 L359.00,44.39 L360.00,43.94 L361.00,43.45 L362.00,42.92 L363.00,42.35 L364.00,41.74 L365.00,41.09 L366.00,40.39 L367.00,39.66 L368.00,38.89 L369.00,38.08 L370.00,37.23 L371.00,36.36 L372.00,35.45 L373.00,34.51 L374.00,33.55 L375.00,32.56 L376.00,31.55 L377.00,30.51 L378.00,29.46 L379.00,28.40 L380.00,27.33 L381.00,26.27 L382.00,25.21 L383.00,24.17 L384.00,23.15 L385.00,22.15 L386.00,21.19 L387.00,20.26 L388.00,19.38 L389.00,18.55 L390.00,17.77 L391.00,17.06 L392.00,16.40 L393.00,15.81 L394.00,15.26 L395.00,14.77 L396.00,14.33 L397.00,13.93 L398.00,13.58 L399.00,13.50 L400.00,13.50 L401.00,13.50 L402.00,13.50 L403.00,13.50 L404.00,13.50 L405.00,13.50 L406.00,13.50 L407.00,13.50 L408.00,13.50 L409.00,13.50 L410.00,13.50 L411.00,13.50 L412.00,13.50 L413.00,13.50 L414.00,13.50 L415.00,13.50 L416.00,13.50 L417.00,13.50 L418.00,13.50 L419.00,13.50 L420.00,13.50 L421.00,13.50 L422.00,13.50 L423.00,13.50 L424.00,13.50 L425.00,13.50 L426.00,13.50 L427.00,13.50 L428.00,13.50 L429.00,13.50 L430.00,13.50 L431.00,13.50 L432.00,13.50 L433.00,13.50 L434.00,13.50 L435.00,13.50 L436.00,13.50 L437.00,13.50 L438.00,13.50 L439.00,13.50 L440.00,13.50 L441.00,13.50 L442.00,13.50 L443.00,13.50 L444.00,13.50 L445.00,13.50 L446.00,13.50 L447.00,13.50 L448.00,13.50 L449.00,13.50 L450.00,13.50 L453.00,13.50 L455.50,12.40 L457.60,9.80" fill="none" stroke="#c45ae8" stroke-width="2.2" stroke-linecap="round" stroke-linejoin="round"/>
<polyline points="430.2,14.6 433.4,22.8 436.8,14.6" fill="none" stroke="#000" stroke-width="2.1" stroke-linejoin="miter" stroke-miterlimit="10"/>
<rect x="276.10" y="4.80" width="191.10" height="103.10" fill="none" stroke="#000" stroke-width="1.6"/>
<text x="387.9" y="49.0" class="tl" style="font-size:8.8px">E</text>
<text x="394.2" y="45.4" style="font-size:5.8px;stroke:#222;stroke-width:0.12px" fill="#222">0</text>
<text transform="translate(393.5,51.9) scale(0.92,1)" style="font-size:6.4px;stroke:#222;stroke-width:0.12px" fill="#222">O<tspan dy="1" style="font-size:4.2px">2</tspan><tspan dy="-1">/H</tspan><tspan dy="1" style="font-size:4.2px">2</tspan><tspan dy="-1">O</tspan></text>
<text x="413.3" y="49.0" class="tl" style="font-size:8.6px">=1229mV</text>
<rect x="471.5" y="6.8" width="57.1" height="98.0" fill="#fff" stroke="#b0b0b0" stroke-width="0.9"/>
<line x1="472.2" y1="12.80" x2="492.6" y2="12.80" stroke="#000000" stroke-width="2"/>
<text transform="translate(494.2,16.00) scale(0.95,1)" class="lb">Ag</text>
<line x1="472.2" y1="23.60" x2="492.6" y2="23.60" stroke="#e8891a" stroke-width="2"/>
<text transform="translate(494.2,26.80) scale(0.95,1)" class="lb">Ag<tspan class="sb" dy="1.8">90</tspan><tspan dy="-1.8">Au</tspan><tspan class="sb" dy="1.8">10</tspan></text>
<line x1="472.2" y1="35.70" x2="492.6" y2="35.70" stroke="#44c8f0" stroke-width="2"/>
<text transform="translate(494.2,38.90) scale(0.95,1)" class="lb">Ag<tspan class="sb" dy="1.8">80</tspan><tspan dy="-1.8">Au</tspan><tspan class="sb" dy="1.8">20</tspan></text>
<line x1="472.2" y1="48.20" x2="492.6" y2="48.20" stroke="#22d84a" stroke-width="2"/>
<text transform="translate(494.2,51.40) scale(0.95,1)" class="lb">Ag<tspan class="sb" dy="1.8">70</tspan><tspan dy="-1.8">Au</tspan><tspan class="sb" dy="1.8">30</tspan></text>
<line x1="472.2" y1="61.10" x2="492.6" y2="61.10" stroke="#e6ee1e" stroke-width="2"/>
<text transform="translate(494.2,64.30) scale(0.95,1)" class="lb">Ag<tspan class="sb" dy="1.8">50</tspan><tspan dy="-1.8">Au</tspan><tspan class="sb" dy="1.8">50</tspan></text>
<line x1="472.2" y1="73.90" x2="492.6" y2="73.90" stroke="#1e6fe8" stroke-width="2"/>
<text transform="translate(494.2,77.10) scale(0.95,1)" class="lb">Ag<tspan class="sb" dy="1.8">40</tspan><tspan dy="-1.8">Au</tspan><tspan class="sb" dy="1.8">60</tspan></text>
<line x1="472.2" y1="86.80" x2="492.6" y2="86.80" stroke="#e8400f" stroke-width="2"/>
<text transform="translate(494.2,90.00) scale(0.95,1)" class="lb">Ag<tspan class="sb" dy="1.8">20</tspan><tspan dy="-1.8">Au</tspan><tspan class="sb" dy="1.8">80</tspan></text>
<line x1="472.2" y1="99.10" x2="492.6" y2="99.10" stroke="#c45ae8" stroke-width="2"/>
<text transform="translate(494.2,102.30) scale(0.95,1)" class="lb">Au</text>
<text x="325.4" y="135.8" class="tr">Overpotential [mV]</text>
<text transform="translate(231.9,91.4) rotate(-90)" class="tr">Current density</text>
<text transform="translate(246.2,73.8) rotate(-90)" class="tr">[μA/cm²]</text>
<line x1="292.50" y1="227.40" x2="292.50" y2="223.20" class="tk"/>
<line x1="292.50" y1="143.80" x2="292.50" y2="148.00" class="tk"/>
<line x1="308.70" y1="227.40" x2="308.70" y2="225.40" class="tk"/>
<line x1="308.70" y1="143.80" x2="308.70" y2="145.80" class="tk"/>
<line x1="324.90" y1="227.40" x2="324.90" y2="223.20" class="tk"/>
<line x1="324.90" y1="143.80" x2="324.90" y2="148.00" class="tk"/>
<line x1="341.10" y1="227.40" x2="341.10" y2="225.40" class="tk"/>
<line x1="341.10" y1="143.80" x2="341.10" y2="145.80" class="tk"/>
<line x1="357.30" y1="227.40" x2="357.30" y2="223.20" class="tk"/>
<line x1="357.30" y1="143.80" x2="357.30" y2="148.00" class="tk"/>
<line x1="373.50" y1="227.40" x2="373.50" y2="225.40" class="tk"/>
<line x1="373.50" y1="143.80" x2="373.50" y2="145.80" class="tk"/>
<line x1="389.70" y1="227.40" x2="389.70" y2="223.20" class="tk"/>
<line x1="389.70" y1="143.80" x2="389.70" y2="148.00" class="tk"/>
<line x1="405.90" y1="227.40" x2="405.90" y2="225.40" class="tk"/>
<line x1="405.90" y1="143.80" x2="405.90" y2="145.80" class="tk"/>
<line x1="422.10" y1="227.40" x2="422.10" y2="223.20" class="tk"/>
<line x1="422.10" y1="143.80" x2="422.10" y2="148.00" class="tk"/>
<line x1="438.30" y1="227.40" x2="438.30" y2="225.40" class="tk"/>
<line x1="438.30" y1="143.80" x2="438.30" y2="145.80" class="tk"/>
<line x1="454.50" y1="227.40" x2="454.50" y2="223.20" class="tk"/>
<line x1="454.50" y1="143.80" x2="454.50" y2="148.00" class="tk"/>
<line x1="276.00" y1="148.75" x2="278.10" y2="148.75" class="tk"/>
<line x1="470.90" y1="148.75" x2="468.80" y2="148.75" class="tk"/>
<line x1="276.00" y1="158.75" x2="280.50" y2="158.75" class="tk"/>
<line x1="470.90" y1="158.75" x2="466.40" y2="158.75" class="tk"/>
<line x1="276.00" y1="168.75" x2="278.10" y2="168.75" class="tk"/>
<line x1="470.90" y1="168.75" x2="468.80" y2="168.75" class="tk"/>
<line x1="276.00" y1="178.75" x2="280.50" y2="178.75" class="tk"/>
<line x1="470.90" y1="178.75" x2="466.40" y2="178.75" class="tk"/>
<line x1="276.00" y1="188.75" x2="278.10" y2="188.75" class="tk"/>
<line x1="470.90" y1="188.75" x2="468.80" y2="188.75" class="tk"/>
<line x1="276.00" y1="198.75" x2="280.50" y2="198.75" class="tk"/>
<line x1="470.90" y1="198.75" x2="466.40" y2="198.75" class="tk"/>
<line x1="276.00" y1="208.75" x2="278.10" y2="208.75" class="tk"/>
<line x1="470.90" y1="208.75" x2="468.80" y2="208.75" class="tk"/>
<line x1="276.00" y1="218.75" x2="280.50" y2="218.75" class="tk"/>
<line x1="470.90" y1="218.75" x2="466.40" y2="218.75" class="tk"/>
<text transform="translate(272.40,162.15) scale(0.950,1)" class="tl" text-anchor="end">|-675|</text>
<text transform="translate(272.40,182.15) scale(0.950,1)" class="tl" text-anchor="end">|-600|</text>
<text transform="translate(272.40,202.15) scale(0.950,1)" class="tl" text-anchor="end">|-525|</text>
<text transform="translate(272.40,222.15) scale(0.950,1)" class="tl" text-anchor="end">|-450|</text>
<text transform="translate(293.10,240.30) scale(0.950,1)" class="tl" text-anchor="middle">0.0</text>
<text transform="translate(325.50,240.30) scale(0.950,1)" class="tl" text-anchor="middle">0.2</text>
<text transform="translate(357.90,240.30) scale(0.950,1)" class="tl" text-anchor="middle">0.4</text>
<text transform="translate(390.30,240.30) scale(0.950,1)" class="tl" text-anchor="middle">0.6</text>
<text transform="translate(422.70,240.30) scale(0.950,1)" class="tl" text-anchor="middle">0.8</text>
<text transform="translate(455.10,240.30) scale(0.950,1)" class="tl" text-anchor="middle">1.0</text>
<text x="282.7" y="159.2" class="pl" style="font-size:13.4px">c</text><text x="290.3" y="159.9" class="pr" style="font-size:13.3px">)</text>
<text transform="translate(425.4,160.7) scale(1.03,1)" class="tl" style="font-size:9.5px">R<tspan dy="-3.6" style="font-size:5.6px">2</tspan><tspan dy="3.6" dx="0.3">=0.95</tspan></text>
<line x1="292.75" y1="163.40" x2="292.75" y2="179.30" stroke="#000" stroke-width="1.2"/>
<line x1="290.15" y1="163.40" x2="295.35" y2="163.40" stroke="#000" stroke-width="1.2"/>
<line x1="290.15" y1="179.30" x2="295.35" y2="179.30" stroke="#000" stroke-width="1.2"/>
<rect x="287.65" y="166.30" width="10.20" height="10.20" fill="#000000"/>
<line x1="326.60" y1="149.60" x2="326.60" y2="168.20" stroke="#000" stroke-width="1.2"/>
<line x1="324.00" y1="149.60" x2="329.20" y2="149.60" stroke="#000" stroke-width="1.2"/>
<line x1="324.00" y1="168.20" x2="329.20" y2="168.20" stroke="#000" stroke-width="1.2"/>
<rect x="321.50" y="154.10" width="10.20" height="10.20" fill="#e8950f"/>
<line x1="338.50" y1="149.60" x2="338.50" y2="167.80" stroke="#000" stroke-width="1.2"/>
<line x1="335.90" y1="149.60" x2="341.10" y2="149.60" stroke="#000" stroke-width="1.2"/>
<line x1="335.90" y1="167.80" x2="341.10" y2="167.80" stroke="#000" stroke-width="1.2"/>
<rect x="333.40" y="154.00" width="10.20" height="10.20" fill="#55ccf5"/>
<line x1="354.00" y1="163.60" x2="354.00" y2="180.30" stroke="#000" stroke-width="1.2"/>
<line x1="351.40" y1="163.60" x2="356.60" y2="163.60" stroke="#000" stroke-width="1.2"/>
<line x1="351.40" y1="180.30" x2="356.60" y2="180.30" stroke="#000" stroke-width="1.2"/>
<rect x="348.90" y="166.90" width="10.20" height="10.20" fill="#33e055"/>
<line x1="380.20" y1="182.40" x2="380.20" y2="197.60" stroke="#000" stroke-width="1.2"/>
<line x1="377.60" y1="182.40" x2="382.80" y2="182.40" stroke="#000" stroke-width="1.2"/>
<line x1="377.60" y1="197.60" x2="382.80" y2="197.60" stroke="#000" stroke-width="1.2"/>
<rect x="375.10" y="185.30" width="10.20" height="10.20" fill="#e8f020"/>
<line x1="389.10" y1="188.80" x2="389.10" y2="203.30" stroke="#000" stroke-width="1.2"/>
<line x1="386.50" y1="188.80" x2="391.70" y2="188.80" stroke="#000" stroke-width="1.2"/>
<line x1="386.50" y1="203.30" x2="391.70" y2="203.30" stroke="#000" stroke-width="1.2"/>
<rect x="384.00" y="190.90" width="10.20" height="10.20" fill="#2080f0"/>
<line x1="402.40" y1="180.40" x2="402.40" y2="195.50" stroke="#000" stroke-width="1.2"/>
<line x1="399.80" y1="180.40" x2="405.00" y2="180.40" stroke="#000" stroke-width="1.2"/>
<line x1="399.80" y1="195.50" x2="405.00" y2="195.50" stroke="#000" stroke-width="1.2"/>
<rect x="397.30" y="183.10" width="10.20" height="10.20" fill="#e84010"/>
<line x1="455.20" y1="210.40" x2="455.20" y2="223.20" stroke="#000" stroke-width="1.2"/>
<line x1="452.60" y1="210.40" x2="457.80" y2="210.40" stroke="#000" stroke-width="1.2"/>
<line x1="452.60" y1="223.20" x2="457.80" y2="223.20" stroke="#000" stroke-width="1.2"/>
<rect x="450.10" y="211.70" width="10.20" height="10.20" fill="#cc55ee"/>
<line x1="326.6" y1="159.2" x2="451" y2="216.4" stroke="#000" stroke-width="1.6" stroke-dasharray="3.6 3"/>
<rect x="276.00" y="143.80" width="194.90" height="83.60" fill="none" stroke="#000" stroke-width="1.6"/>
<text x="303.0" y="254.8" class="ti"><tspan font-weight="bold">S</tspan>urface <tspan font-weight="bold">G</tspan>old <tspan font-weight="bold">M</tspan>olar <tspan font-weight="bold">F</tspan>raction</text>
<text transform="translate(227.6,243.4) rotate(-90)" class="tr">Cathodic overpotential</text>
<text transform="translate(241.4,232.3) rotate(-90)" class="tr">at IP [mV vs RHE]</text>
</svg></body></html>
